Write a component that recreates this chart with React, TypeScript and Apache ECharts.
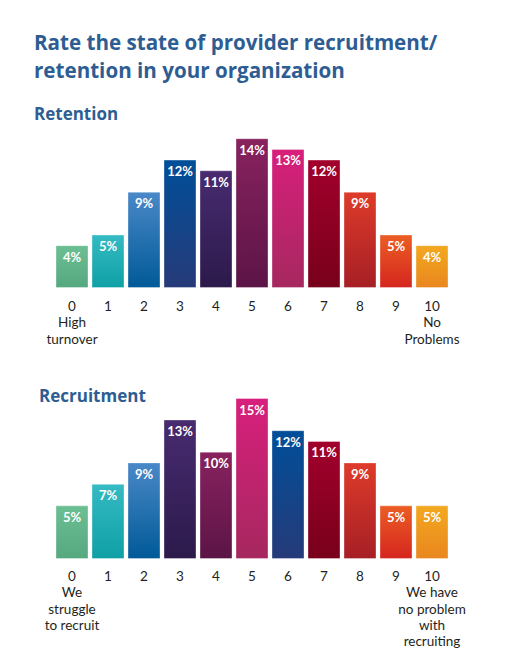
import React, { useEffect, useRef } from "react";
import * as echarts from "echarts";

const categories = ["0", "1", "2", "3", "4", "5", "6", "7", "8", "9", "10"];
const retentionValues = [4, 5, 9, 12, 11, 14, 13, 12, 9, 5, 4];
const recruitmentValues = [5, 7, 9, 13, 10, 15, 12, 11, 9, 5, 5];
const retentionAxisLabels = ["0\nHigh\nturnover", "1", "2", "3", "4", "5", "6", "7", "8", "9", "10\nNo\nProblems"];
const recruitmentAxisLabels = ["0\nWe\nstruggle\nto recruit", "1", "2", "3", "4", "5", "6", "7", "8", "9", "10\nWe have\nno problem\nwith\nrecruiting"];

const GREEN: [string, string] = ["#6cbf93", "#56a97f"];
const TEAL: [string, string] = ["#35bac2", "#0fa0a6"];
const BLUE: [string, string] = ["#4a88c8", "#005a97"];
const NAVY: [string, string] = ["#004f99", "#263a79"];
const INDIGO: [string, string] = ["#482b70", "#2c1a4b"];
const PLUM: [string, string] = ["#88225f", "#5c1446"];
const PINK: [string, string] = ["#d81f7c", "#a6285f"];
const CRIMSON: [string, string] = ["#a2002d", "#78001a"];
const RED: [string, string] = ["#de3b2a", "#a61f25"];
const ORANGERED: [string, string] = ["#eb5e24", "#d5261e"];
const ORANGE: [string, string] = ["#f3a81f", "#e9871f"];

const retentionColors = [GREEN, TEAL, BLUE, NAVY, INDIGO, PLUM, PINK, CRIMSON, RED, ORANGERED, ORANGE];
const recruitmentColors = [GREEN, TEAL, BLUE, INDIGO, PLUM, PINK, NAVY, CRIMSON, RED, ORANGERED, ORANGE];

const FONT = "Lato";
const HEAD_FONT = "Open Sans";
const TITLE_COLOR = "#2d5d92";

function grad(c: [string, string]) {
  return new echarts.graphic.LinearGradient(0, 0, 0, 1, [
    { offset: 0, color: c[0] },
    { offset: 1, color: c[1] },
  ]);
}

function buildData(values: number[], colors: [string, string][]) {
  return values.map((v, i) => ({
    value: v,
    itemStyle: { color: grad(colors[i]), borderColor: "rgba(255,255,255,0.35)", borderWidth: 1 },
  }));
}

export default function App() {
  const ref = useRef<HTMLDivElement>(null);
  useEffect(() => {
    if (!ref.current) return;
    const chart = echarts.init(ref.current, null, { renderer: "svg" });
    const axisLabelCommon = {
      color: "#231f20",
      fontFamily: FONT,
      fontSize: 13.5,
      lineHeight: 16.2,
      interval: 0,
    };
    const barLabel = {
      show: true,
      position: "insideTop",
      distance: 5,
      color: "#ffffff",
      fontFamily: FONT,
      fontWeight: "bold",
      fontSize: 13,
      formatter: "{c}%",
    };
    chart.setOption({
      animation: false,
      backgroundColor: "#ffffff",
      title: [
        {
          text: "Rate the state of provider recruitment/\nretention in your organization",
          left: 34,
          top: 28,
          padding: 0,
          textStyle: { color: TITLE_COLOR, fontFamily: HEAD_FONT, fontWeight: "bold", fontSize: 20.6, lineHeight: 28 },
        },
        {
          text: "Retention",
          left: 34,
          top: 103,
          padding: 0,
          textStyle: { color: TITLE_COLOR, fontFamily: HEAD_FONT, fontWeight: "bold", fontSize: 17, lineHeight: 20 },
        },
        {
          text: "Recruitment",
          left: 39,
          top: 385,
          padding: 0,
          textStyle: { color: TITLE_COLOR, fontFamily: HEAD_FONT, fontWeight: "bold", fontSize: 17, lineHeight: 20 },
        },
      ],
      grid: [
        { left: 54, width: 396, top: 127.5, height: 160.5 },
        { left: 54, width: 396, top: 398, height: 161 },
      ],
      xAxis: [
        {
          type: "category",
          gridIndex: 0,
          data: categories,
          axisLine: { show: false },
          axisTick: { show: false },
          axisLabel: {
            ...axisLabelCommon,
            margin: 10,
            formatter: (_v: string, idx: number) => retentionAxisLabels[idx],
          },
        },
        {
          type: "category",
          gridIndex: 1,
          data: categories,
          axisLine: { show: false },
          axisTick: { show: false },
          axisLabel: {
            ...axisLabelCommon,
            margin: 9,
            formatter: (_v: string, idx: number) => recruitmentAxisLabels[idx],
          },
        },
      ],
      yAxis: [
        { type: "value", gridIndex: 0, min: 0, max: 15, show: false },
        { type: "value", gridIndex: 1, min: 0, max: 15, show: false },
      ],
      series: [
        {
          type: "bar",
          xAxisIndex: 0,
          yAxisIndex: 0,
          barWidth: 33,
          data: buildData(retentionValues, retentionColors),
          label: barLabel,
        },
        {
          type: "bar",
          xAxisIndex: 1,
          yAxisIndex: 1,
          barWidth: 33,
          data: buildData(recruitmentValues, recruitmentColors),
          label: barLabel,
        },
      ],
    });
    return () => chart.dispose();
  }, []);
  return (
    <div
      ref={ref}
      style={{ position: "absolute", left: 0, top: 0, width: 512, height: 671 }}
    />
  );
}
